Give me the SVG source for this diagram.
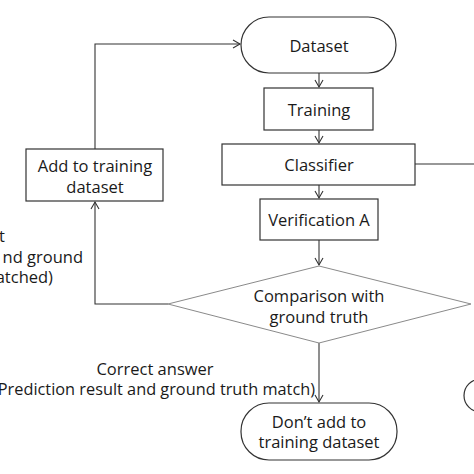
<svg xmlns="http://www.w3.org/2000/svg" width="474" height="474" viewBox="0 0 474 474">
<style>
.box{fill:#fff;stroke:#333;stroke-width:1.2}
.dia{fill:#fff;stroke:#8a8a8a;stroke-width:1}
.ln{fill:none;stroke:#333;stroke-width:1.1}
text{font-family:"Open Sans","Noto Sans",sans-serif;font-size:16.5px;fill:#1a1a1a;text-anchor:middle}
.e{text-anchor:end}
</style>
<defs>
<marker id="arr" markerWidth="10" markerHeight="10" refX="8" refY="5" orient="auto" markerUnits="userSpaceOnUse">
<path d="M1,1 L8,5 L1,9" fill="none" stroke="#333" stroke-width="1.1"/>
</marker>
</defs>
<rect width="474" height="474" fill="#fff"/>
<g id="connectors">
<line class="ln" x1="319" y1="73" x2="319" y2="87" marker-end="url(#arr)"/>
<line class="ln" x1="319" y1="130" x2="319" y2="143" marker-end="url(#arr)"/>
<line class="ln" x1="319" y1="185" x2="319" y2="198" marker-end="url(#arr)"/>
<line class="ln" x1="319" y1="240" x2="319" y2="265" marker-end="url(#arr)"/>
<line class="ln" x1="319" y1="343" x2="319" y2="402" marker-end="url(#arr)"/>
<line class="ln" x1="415" y1="164" x2="476" y2="164"/>
<polyline class="ln" points="168,304 95,304 95,202" marker-end="url(#arr)"/>
<polyline class="ln" points="95,149 95,44 240,44" marker-end="url(#arr)"/>
</g>
<g id="dataset">
<rect class="box" x="241" y="17" width="155" height="56" rx="28"/>
<text x="319" y="52">Dataset</text>
</g>
<g id="training">
<rect class="box" x="264" y="88" width="109" height="42"/>
<text x="319" y="116">Training</text>
</g>
<g id="classifier">
<rect class="box" x="222" y="144" width="193" height="41"/>
<text x="319" y="171">Classifier</text>
</g>
<g id="verification">
<rect class="box" x="260" y="199" width="118" height="41"/>
<text x="319" y="226">Verification A</text>
</g>
<g id="comparison">
<polygon class="dia" points="319,266 471,304 319,343 168,304"/>
<text x="319" y="302">Comparison with</text>
<text x="319" y="323">ground truth</text>
</g>
<g id="add">
<rect class="box" x="26" y="149" width="137" height="52"/>
<text x="95" y="172">Add to training</text>
<text x="95" y="193">dataset</text>
</g>
<g id="dontadd">
<rect class="box" x="241" y="403" width="156" height="57" rx="28"/>
<text x="319" y="428">Don’t add to</text>
<text x="319" y="448">training dataset</text>
</g>
<g id="right-node">
<rect class="box" x="464" y="379" width="60" height="33" rx="16.5"/>
</g>
<g id="labels">
<text x="155" y="375">Correct answer</text>
<text class="e" x="315" y="395" textLength="322" lengthAdjust="spacingAndGlyphs">(Prediction result and ground truth match)</text>
<text class="e" x="5" y="242">t</text>
<text class="e" x="83" y="263">nd ground</text>
<text class="e" x="53" y="283">atched)</text>
</g>
</svg>
